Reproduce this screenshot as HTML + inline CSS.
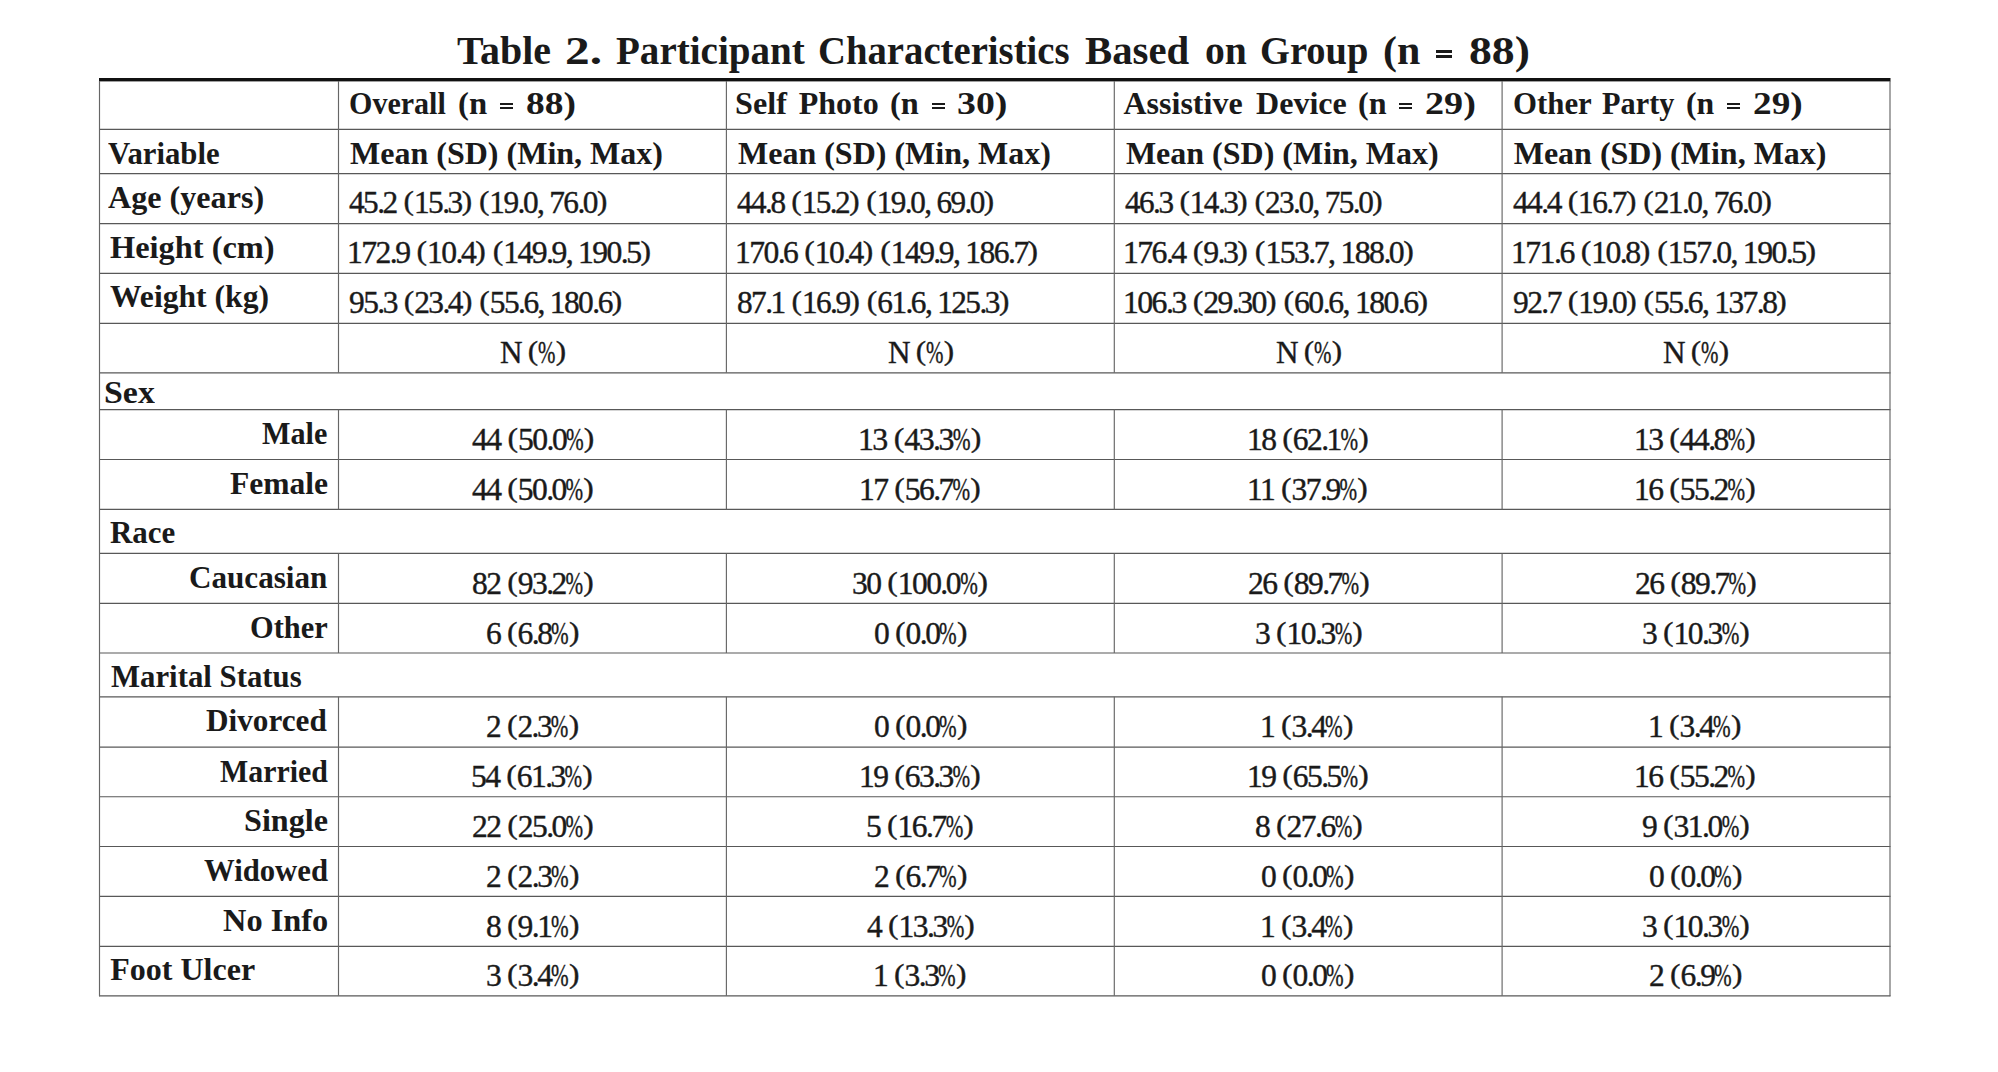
<!DOCTYPE html><html><head><meta charset='utf-8'><style>
html,body{margin:0;padding:0;background:#fff;width:1998px;height:1072px;overflow:hidden;position:relative}
.t{position:absolute;font-family:"Liberation Serif", serif;white-space:pre;color:#1a1a1a;transform-origin:0 0}
.r{position:absolute;background:#1a1a1a}
.p{display:inline-block;transform:scaleX(0.67);transform-origin:0 0;margin-right:-8.80px;letter-spacing:0} .d{letter-spacing:-2.5px} .q{letter-spacing:0;display:inline-block;transform:scaleY(.885);transform-origin:50% 5px} .s{letter-spacing:-1px}
</style></head><body>
<svg width='1998' height='1072' style='position:absolute;left:0;top:0'><rect x='99.0' y='78' width='1791.5' height='3.4' fill='#111'/><line x1='99.0' y1='129.4' x2='1890.5' y2='129.4' stroke='#585858' stroke-width='1.15'/><line x1='99.0' y1='173.6' x2='1890.5' y2='173.6' stroke='#585858' stroke-width='1.15'/><line x1='99.0' y1='223.6' x2='1890.5' y2='223.6' stroke='#585858' stroke-width='1.15'/><line x1='99.0' y1='273.4' x2='1890.5' y2='273.4' stroke='#585858' stroke-width='1.15'/><line x1='99.0' y1='323.3' x2='1890.5' y2='323.3' stroke='#585858' stroke-width='1.15'/><line x1='99.0' y1='372.8' x2='1890.5' y2='372.8' stroke='#585858' stroke-width='1.15'/><line x1='99.0' y1='409.6' x2='1890.5' y2='409.6' stroke='#585858' stroke-width='1.15'/><line x1='99.0' y1='459.5' x2='1890.5' y2='459.5' stroke='#585858' stroke-width='1.15'/><line x1='99.0' y1='509.4' x2='1890.5' y2='509.4' stroke='#585858' stroke-width='1.15'/><line x1='99.0' y1='553.4' x2='1890.5' y2='553.4' stroke='#585858' stroke-width='1.15'/><line x1='99.0' y1='603.3' x2='1890.5' y2='603.3' stroke='#585858' stroke-width='1.15'/><line x1='99.0' y1='653.0' x2='1890.5' y2='653.0' stroke='#585858' stroke-width='1.15'/><line x1='99.0' y1='696.8' x2='1890.5' y2='696.8' stroke='#585858' stroke-width='1.15'/><line x1='99.0' y1='747.1' x2='1890.5' y2='747.1' stroke='#585858' stroke-width='1.15'/><line x1='99.0' y1='796.7' x2='1890.5' y2='796.7' stroke='#585858' stroke-width='1.15'/><line x1='99.0' y1='846.5' x2='1890.5' y2='846.5' stroke='#585858' stroke-width='1.15'/><line x1='99.0' y1='896.4' x2='1890.5' y2='896.4' stroke='#585858' stroke-width='1.15'/><line x1='99.0' y1='946.4' x2='1890.5' y2='946.4' stroke='#585858' stroke-width='1.15'/><line x1='99.0' y1='995.8' x2='1890.5' y2='995.8' stroke='#585858' stroke-width='1.15'/><line x1='99.5' y1='81' x2='99.5' y2='996.3' stroke='#666' stroke-width='1.15'/><line x1='1890' y1='81' x2='1890' y2='996.3' stroke='#666' stroke-width='1.15'/><line x1='338.5' y1='81' x2='338.5' y2='372.8' stroke='#666' stroke-width='1.15'/><line x1='338.5' y1='409.6' x2='338.5' y2='509.4' stroke='#666' stroke-width='1.15'/><line x1='338.5' y1='553.4' x2='338.5' y2='653.0' stroke='#666' stroke-width='1.15'/><line x1='338.5' y1='696.8' x2='338.5' y2='995.8' stroke='#666' stroke-width='1.15'/><line x1='726.4' y1='81' x2='726.4' y2='372.8' stroke='#666' stroke-width='1.15'/><line x1='726.4' y1='409.6' x2='726.4' y2='509.4' stroke='#666' stroke-width='1.15'/><line x1='726.4' y1='553.4' x2='726.4' y2='653.0' stroke='#666' stroke-width='1.15'/><line x1='726.4' y1='696.8' x2='726.4' y2='995.8' stroke='#666' stroke-width='1.15'/><line x1='1114.3' y1='81' x2='1114.3' y2='372.8' stroke='#666' stroke-width='1.15'/><line x1='1114.3' y1='409.6' x2='1114.3' y2='509.4' stroke='#666' stroke-width='1.15'/><line x1='1114.3' y1='553.4' x2='1114.3' y2='653.0' stroke='#666' stroke-width='1.15'/><line x1='1114.3' y1='696.8' x2='1114.3' y2='995.8' stroke='#666' stroke-width='1.15'/><line x1='1502.1' y1='81' x2='1502.1' y2='372.8' stroke='#666' stroke-width='1.15'/><line x1='1502.1' y1='409.6' x2='1502.1' y2='509.4' stroke='#666' stroke-width='1.15'/><line x1='1502.1' y1='553.4' x2='1502.1' y2='653.0' stroke='#666' stroke-width='1.15'/><line x1='1502.1' y1='696.8' x2='1502.1' y2='995.8' stroke='#666' stroke-width='1.15'/></svg>
<div class='r' style='left:1436.1px;top:50.2px;width:16px;height:2.8px'></div>
<div class='r' style='left:1436.1px;top:55.2px;width:16px;height:2.8px'></div>
<div class='r' style='left:500.0px;top:103.0px;width:13.3px;height:1.8px'></div>
<div class='r' style='left:500.0px;top:107.2px;width:13.3px;height:1.8px'></div>
<div class='r' style='left:931.8px;top:103.0px;width:13.3px;height:1.8px'></div>
<div class='r' style='left:931.8px;top:107.2px;width:13.3px;height:1.8px'></div>
<div class='r' style='left:1399.2px;top:103.0px;width:13.3px;height:1.8px'></div>
<div class='r' style='left:1399.2px;top:107.2px;width:13.3px;height:1.8px'></div>
<div class='r' style='left:1727.2px;top:103.0px;width:13.3px;height:1.8px'></div>
<div class='r' style='left:1727.2px;top:107.2px;width:13.3px;height:1.8px'></div>
<div class='t' style='left:457.23px;top:29.67px;font-weight:bold;font-size:41px;line-height:41px;transform:scaleX(0.9737);'>Table</div>
<div class='t' style='left:564.59px;top:29.67px;font-weight:bold;font-size:41px;line-height:41px;transform:scaleX(1.2037);'>2.</div>
<div class='t' style='left:615.65px;top:29.67px;font-weight:bold;font-size:41px;line-height:41px;transform:scaleX(0.9528);'>Participant</div>
<div class='t' style='left:817.51px;top:29.67px;font-weight:bold;font-size:41px;line-height:41px;transform:scaleX(0.9443);'>Characteristics</div>
<div class='t' style='left:1084.61px;top:29.67px;font-weight:bold;font-size:41px;line-height:41px;transform:scaleX(0.9942);'>Based</div>
<div class='t' style='left:1204.83px;top:29.67px;font-weight:bold;font-size:41px;line-height:41px;transform:scaleX(0.9667);'>on</div>
<div class='t' style='left:1260.02px;top:29.67px;font-weight:bold;font-size:41px;line-height:41px;transform:scaleX(0.9384);'>Group</div>
<div class='t' style='left:1383.15px;top:29.67px;font-weight:bold;font-size:41px;line-height:41px;transform:scaleX(1.0235);'>(n</div>
<div class='t' style='left:1468.58px;top:29.67px;font-weight:bold;font-size:41px;line-height:41px;transform:scaleX(1.1154);'>88)</div>
<div class='t' style='left:349.06px;top:87.00px;font-weight:bold;font-size:32px;line-height:32px;transform:scaleX(0.9392);'>Overall</div>
<div class='t' style='left:458.38px;top:87.00px;font-weight:bold;font-size:32px;line-height:32px;transform:scaleX(1.0222);'>(n</div>
<div class='t' style='left:525.93px;top:87.00px;font-weight:bold;font-size:32px;line-height:32px;transform:scaleX(1.1700);'>88)</div>
<div class='t' style='left:735.49px;top:87.00px;font-weight:bold;font-size:32px;line-height:32px;transform:scaleX(1.0060);'>Self</div>
<div class='t' style='left:798.70px;top:87.00px;font-weight:bold;font-size:32px;line-height:32px;'>Photo</div>
<div class='t' style='left:890.09px;top:87.00px;font-weight:bold;font-size:32px;line-height:32px;transform:scaleX(1.0111);'>(n</div>
<div class='t' style='left:957.02px;top:87.00px;font-weight:bold;font-size:32px;line-height:32px;transform:scaleX(1.1825);'>30)</div>
<div class='t' style='left:1123.50px;top:87.00px;font-weight:bold;font-size:32px;line-height:32px;'>Assistive</div>
<div class='t' style='left:1255.80px;top:87.00px;font-weight:bold;font-size:32px;line-height:32px;transform:scaleX(1.0022);'>Device</div>
<div class='t' style='left:1357.60px;top:87.00px;font-weight:bold;font-size:32px;line-height:32px;transform:scaleX(1.0037);'>(n</div>
<div class='t' style='left:1424.71px;top:87.00px;font-weight:bold;font-size:32px;line-height:32px;transform:scaleX(1.1925);'>29)</div>
<div class='t' style='left:1512.74px;top:87.00px;font-weight:bold;font-size:32px;line-height:32px;transform:scaleX(0.9637);'>Other</div>
<div class='t' style='left:1601.90px;top:87.00px;font-weight:bold;font-size:32px;line-height:32px;transform:scaleX(0.9474);'>Party</div>
<div class='t' style='left:1685.61px;top:87.00px;font-weight:bold;font-size:32px;line-height:32px;transform:scaleX(0.9926);'>(n</div>
<div class='t' style='left:1752.74px;top:87.00px;font-weight:bold;font-size:32px;line-height:32px;transform:scaleX(1.1650);'>29)</div>
<div class='t' style='left:108.30px;top:137.00px;font-weight:bold;font-size:32px;line-height:32px;transform:scaleX(0.9612);'>Variable</div>
<div class='t' style='left:350.10px;top:137.30px;font-weight:bold;font-size:32px;line-height:32px;'>Mean (SD) (Min, Max)</div>
<div class='t' style='left:738.00px;top:137.30px;font-weight:bold;font-size:32px;line-height:32px;'>Mean (SD) (Min, Max)</div>
<div class='t' style='left:1125.90px;top:137.30px;font-weight:bold;font-size:32px;line-height:32px;'>Mean (SD) (Min, Max)</div>
<div class='t' style='left:1513.70px;top:137.30px;font-weight:bold;font-size:32px;line-height:32px;'>Mean (SD) (Min, Max)</div>
<div class='t' style='left:108.10px;top:181.10px;font-weight:bold;font-size:32px;line-height:32px;transform:scaleX(1.0039);'>Age (years)</div>
<div class='t' style='left:349.12px;top:186.20px;font-size:32px;line-height:32px;letter-spacing:-1.6px;-webkit-text-stroke:0.4px #1a1a1a;transform:scaleX(0.9786);'>45<span class="d">.</span>2<span class="s"> </span><span class="q">(</span>15<span class="d">.</span>3<span class="q">)</span><span class="s"> </span><span class="q">(</span>19<span class="d">.</span>0<span class="d">,</span><span class="s"> </span>76<span class="d">.</span>0<span class="q">)</span></div>
<div class='t' style='left:737.03px;top:186.20px;font-size:32px;line-height:32px;letter-spacing:-1.6px;-webkit-text-stroke:0.4px #1a1a1a;transform:scaleX(0.9744);'>44<span class="d">.</span>8<span class="s"> </span><span class="q">(</span>15<span class="d">.</span>2<span class="q">)</span><span class="s"> </span><span class="q">(</span>19<span class="d">.</span>0<span class="d">,</span><span class="s"> </span>69<span class="d">.</span>0<span class="q">)</span></div>
<div class='t' style='left:1124.92px;top:186.20px;font-size:32px;line-height:32px;letter-spacing:-1.6px;-webkit-text-stroke:0.4px #1a1a1a;transform:scaleX(0.9760);'>46<span class="d">.</span>3<span class="s"> </span><span class="q">(</span>14<span class="d">.</span>3<span class="q">)</span><span class="s"> </span><span class="q">(</span>23<span class="d">.</span>0<span class="d">,</span><span class="s"> </span>75<span class="d">.</span>0<span class="q">)</span></div>
<div class='t' style='left:1512.72px;top:186.20px;font-size:32px;line-height:32px;letter-spacing:-1.6px;-webkit-text-stroke:0.4px #1a1a1a;transform:scaleX(0.9809);'>44<span class="d">.</span>4<span class="s"> </span><span class="q">(</span>16<span class="d">.</span>7<span class="q">)</span><span class="s"> </span><span class="q">(</span>21<span class="d">.</span>0<span class="d">,</span><span class="s"> </span>76<span class="d">.</span>0<span class="q">)</span></div>
<div class='t' style='left:110.20px;top:231.00px;font-weight:bold;font-size:32px;line-height:32px;transform:scaleX(1.0124);'>Height (cm)</div>
<div class='t' style='left:347.13px;top:236.20px;font-size:32px;line-height:32px;letter-spacing:-1.6px;-webkit-text-stroke:0.4px #1a1a1a;transform:scaleX(0.9901);'>172<span class="d">.</span>9<span class="s"> </span><span class="q">(</span>10<span class="d">.</span>4<span class="q">)</span><span class="s"> </span><span class="q">(</span>149<span class="d">.</span>9<span class="d">,</span><span class="s"> </span>190<span class="d">.</span>5<span class="q">)</span></div>
<div class='t' style='left:735.04px;top:236.20px;font-size:32px;line-height:32px;letter-spacing:-1.6px;-webkit-text-stroke:0.4px #1a1a1a;transform:scaleX(0.9868);'>170<span class="d">.</span>6<span class="s"> </span><span class="q">(</span>10<span class="d">.</span>4<span class="q">)</span><span class="s"> </span><span class="q">(</span>149<span class="d">.</span>9<span class="d">,</span><span class="s"> </span>186<span class="d">.</span>7<span class="q">)</span></div>
<div class='t' style='left:1122.92px;top:236.20px;font-size:32px;line-height:32px;letter-spacing:-1.6px;-webkit-text-stroke:0.4px #1a1a1a;transform:scaleX(0.9931);'>176<span class="d">.</span>4<span class="s"> </span><span class="q">(</span>9<span class="d">.</span>3<span class="q">)</span><span class="s"> </span><span class="q">(</span>153<span class="d">.</span>7<span class="d">,</span><span class="s"> </span>188<span class="d">.</span>0<span class="q">)</span></div>
<div class='t' style='left:1510.72px;top:236.20px;font-size:32px;line-height:32px;letter-spacing:-1.6px;-webkit-text-stroke:0.4px #1a1a1a;transform:scaleX(0.9934);'>171<span class="d">.</span>6<span class="s"> </span><span class="q">(</span>10<span class="d">.</span>8<span class="q">)</span><span class="s"> </span><span class="q">(</span>157<span class="d">.</span>0<span class="d">,</span><span class="s"> </span>190<span class="d">.</span>5<span class="q">)</span></div>
<div class='t' style='left:109.50px;top:280.40px;font-weight:bold;font-size:32px;line-height:32px;transform:scaleX(0.9881);'>Weight (kg)</div>
<div class='t' style='left:349.12px;top:286.00px;font-size:32px;line-height:32px;letter-spacing:-1.6px;-webkit-text-stroke:0.4px #1a1a1a;transform:scaleX(0.9815);'>95<span class="d">.</span>3<span class="s"> </span><span class="q">(</span>23<span class="d">.</span>4<span class="q">)</span><span class="s"> </span><span class="q">(</span>55<span class="d">.</span>6<span class="d">,</span><span class="s"> </span>180<span class="d">.</span>6<span class="q">)</span></div>
<div class='t' style='left:737.02px;top:286.00px;font-size:32px;line-height:32px;letter-spacing:-1.6px;-webkit-text-stroke:0.4px #1a1a1a;transform:scaleX(0.9783);'>87<span class="d">.</span>1<span class="s"> </span><span class="q">(</span>16<span class="d">.</span>9<span class="q">)</span><span class="s"> </span><span class="q">(</span>61<span class="d">.</span>6<span class="d">,</span><span class="s"> </span>125<span class="d">.</span>3<span class="q">)</span></div>
<div class='t' style='left:1122.92px;top:286.00px;font-size:32px;line-height:32px;letter-spacing:-1.6px;-webkit-text-stroke:0.4px #1a1a1a;transform:scaleX(0.9934);'>106<span class="d">.</span>3<span class="s"> </span><span class="q">(</span>29<span class="d">.</span>30<span class="q">)</span><span class="s"> </span><span class="q">(</span>60<span class="d">.</span>6<span class="d">,</span><span class="s"> </span>180<span class="d">.</span>6<span class="q">)</span></div>
<div class='t' style='left:1512.72px;top:286.00px;font-size:32px;line-height:32px;letter-spacing:-1.6px;-webkit-text-stroke:0.4px #1a1a1a;transform:scaleX(0.9837);'>92<span class="d">.</span>7<span class="s"> </span><span class="q">(</span>19<span class="d">.</span>0<span class="q">)</span><span class="s"> </span><span class="q">(</span>55<span class="d">.</span>6<span class="d">,</span><span class="s"> </span>137<span class="d">.</span>8<span class="q">)</span></div>
<div class='t' style='left:499.77px;top:336.10px;font-size:32px;line-height:32px;letter-spacing:-1.6px;-webkit-text-stroke:0.4px #1a1a1a;transform:scaleX(0.9754);'>N<span class="s"> </span><span class="q">(</span><span class="p">%</span><span class="q">)</span></div>
<div class='t' style='left:887.67px;top:336.10px;font-size:32px;line-height:32px;letter-spacing:-1.6px;-webkit-text-stroke:0.4px #1a1a1a;transform:scaleX(0.9754);'>N<span class="s"> </span><span class="q">(</span><span class="p">%</span><span class="q">)</span></div>
<div class='t' style='left:1275.52px;top:336.10px;font-size:32px;line-height:32px;letter-spacing:-1.6px;-webkit-text-stroke:0.4px #1a1a1a;transform:scaleX(0.9754);'>N<span class="s"> </span><span class="q">(</span><span class="p">%</span><span class="q">)</span></div>
<div class='t' style='left:1663.37px;top:336.10px;font-size:32px;line-height:32px;letter-spacing:-1.6px;-webkit-text-stroke:0.4px #1a1a1a;transform:scaleX(0.9754);'>N<span class="s"> </span><span class="q">(</span><span class="p">%</span><span class="q">)</span></div>
<div class='t' style='left:103.68px;top:375.80px;font-weight:bold;font-size:32px;line-height:32px;transform:scaleX(1.0587);'>Sex</div>
<div class='t' style='left:110.00px;top:516.00px;font-weight:bold;font-size:32px;line-height:32px;transform:scaleX(0.9672);'>Race</div>
<div class='t' style='left:110.50px;top:660.10px;font-weight:bold;font-size:32px;line-height:32px;transform:scaleX(0.9621);'>Marital Status</div>
<div class='t' style='left:262.40px;top:417.10px;font-weight:bold;font-size:32px;line-height:32px;transform:scaleX(0.9420);'>Male</div>
<div class='t' style='left:471.61px;top:422.80px;font-size:32px;line-height:32px;letter-spacing:-1.6px;-webkit-text-stroke:0.4px #1a1a1a;transform:scaleX(0.9893);'>44<span class="s"> </span><span class="q">(</span>50<span class="d">.</span>0<span class="p">%</span><span class="q">)</span></div>
<div class='t' style='left:857.98px;top:422.80px;font-size:32px;line-height:32px;letter-spacing:-1.6px;-webkit-text-stroke:0.4px #1a1a1a;transform:scaleX(0.9979);'>13<span class="s"> </span><span class="q">(</span>43<span class="d">.</span>3<span class="p">%</span><span class="q">)</span></div>
<div class='t' style='left:1246.64px;top:422.80px;font-size:32px;line-height:32px;letter-spacing:-1.6px;-webkit-text-stroke:0.4px #1a1a1a;transform:scaleX(0.9850);'>18<span class="s"> </span><span class="q">(</span>62<span class="d">.</span>1<span class="p">%</span><span class="q">)</span></div>
<div class='t' style='left:1634.49px;top:422.80px;font-size:32px;line-height:32px;letter-spacing:-1.6px;-webkit-text-stroke:0.4px #1a1a1a;transform:scaleX(0.9850);'>13<span class="s"> </span><span class="q">(</span>44<span class="d">.</span>8<span class="p">%</span><span class="q">)</span></div>
<div class='t' style='left:229.80px;top:467.00px;font-weight:bold;font-size:32px;line-height:32px;transform:scaleX(0.9859);'>Female</div>
<div class='t' style='left:471.87px;top:472.70px;font-size:32px;line-height:32px;letter-spacing:-1.6px;-webkit-text-stroke:0.4px #1a1a1a;transform:scaleX(0.9850);'>44<span class="s"> </span><span class="q">(</span>50<span class="d">.</span>0<span class="p">%</span><span class="q">)</span></div>
<div class='t' style='left:858.79px;top:472.70px;font-size:32px;line-height:32px;letter-spacing:-1.6px;-webkit-text-stroke:0.4px #1a1a1a;transform:scaleX(0.9850);'>17<span class="s"> </span><span class="q">(</span>56<span class="d">.</span>7<span class="p">%</span><span class="q">)</span></div>
<div class='t' style='left:1247.13px;top:472.70px;font-size:32px;line-height:32px;letter-spacing:-1.6px;-webkit-text-stroke:0.4px #1a1a1a;transform:scaleX(0.9850);'>11<span class="s"> </span><span class="q">(</span>37<span class="d">.</span>9<span class="p">%</span><span class="q">)</span></div>
<div class='t' style='left:1634.49px;top:472.70px;font-size:32px;line-height:32px;letter-spacing:-1.6px;-webkit-text-stroke:0.4px #1a1a1a;transform:scaleX(0.9850);'>16<span class="s"> </span><span class="q">(</span>55<span class="d">.</span>2<span class="p">%</span><span class="q">)</span></div>
<div class='t' style='left:189.33px;top:560.90px;font-weight:bold;font-size:32px;line-height:32px;transform:scaleX(0.9723);'>Caucasian</div>
<div class='t' style='left:471.87px;top:566.60px;font-size:32px;line-height:32px;letter-spacing:-1.6px;-webkit-text-stroke:0.4px #1a1a1a;transform:scaleX(0.9850);'>82<span class="s"> </span><span class="q">(</span>93<span class="d">.</span>2<span class="p">%</span><span class="q">)</span></div>
<div class='t' style='left:852.38px;top:566.60px;font-size:32px;line-height:32px;letter-spacing:-1.6px;-webkit-text-stroke:0.4px #1a1a1a;transform:scaleX(0.9850);'>30<span class="s"> </span><span class="q">(</span>100<span class="d">.</span>0<span class="p">%</span><span class="q">)</span></div>
<div class='t' style='left:1247.62px;top:566.60px;font-size:32px;line-height:32px;letter-spacing:-1.6px;-webkit-text-stroke:0.4px #1a1a1a;transform:scaleX(0.9850);'>26<span class="s"> </span><span class="q">(</span>89<span class="d">.</span>7<span class="p">%</span><span class="q">)</span></div>
<div class='t' style='left:1635.47px;top:566.60px;font-size:32px;line-height:32px;letter-spacing:-1.6px;-webkit-text-stroke:0.4px #1a1a1a;transform:scaleX(0.9850);'>26<span class="s"> </span><span class="q">(</span>89<span class="d">.</span>7<span class="p">%</span><span class="q">)</span></div>
<div class='t' style='left:250.45px;top:610.80px;font-weight:bold;font-size:32px;line-height:32px;transform:scaleX(0.9500);'>Other</div>
<div class='t' style='left:485.66px;top:616.50px;font-size:32px;line-height:32px;letter-spacing:-1.6px;-webkit-text-stroke:0.4px #1a1a1a;transform:scaleX(0.9850);'>6<span class="s"> </span><span class="q">(</span>6<span class="d">.</span>8<span class="p">%</span><span class="q">)</span></div>
<div class='t' style='left:873.56px;top:616.50px;font-size:32px;line-height:32px;letter-spacing:-1.6px;-webkit-text-stroke:0.4px #1a1a1a;transform:scaleX(0.9850);'>0<span class="s"> </span><span class="q">(</span>0<span class="d">.</span>0<span class="p">%</span><span class="q">)</span></div>
<div class='t' style='left:1254.52px;top:616.50px;font-size:32px;line-height:32px;letter-spacing:-1.6px;-webkit-text-stroke:0.4px #1a1a1a;transform:scaleX(0.9850);'>3<span class="s"> </span><span class="q">(</span>10<span class="d">.</span>3<span class="p">%</span><span class="q">)</span></div>
<div class='t' style='left:1642.37px;top:616.50px;font-size:32px;line-height:32px;letter-spacing:-1.6px;-webkit-text-stroke:0.4px #1a1a1a;transform:scaleX(0.9850);'>3<span class="s"> </span><span class="q">(</span>10<span class="d">.</span>3<span class="p">%</span><span class="q">)</span></div>
<div class='t' style='left:206.40px;top:704.30px;font-weight:bold;font-size:32px;line-height:32px;transform:scaleX(0.9758);'>Divorced</div>
<div class='t' style='left:485.82px;top:710.00px;font-size:32px;line-height:32px;letter-spacing:-1.6px;-webkit-text-stroke:0.4px #1a1a1a;transform:scaleX(0.9817);'>2<span class="s"> </span><span class="q">(</span>2<span class="d">.</span>3<span class="p">%</span><span class="q">)</span></div>
<div class='t' style='left:873.56px;top:710.00px;font-size:32px;line-height:32px;letter-spacing:-1.6px;-webkit-text-stroke:0.4px #1a1a1a;transform:scaleX(0.9850);'>0<span class="s"> </span><span class="q">(</span>0<span class="d">.</span>0<span class="p">%</span><span class="q">)</span></div>
<div class='t' style='left:1260.43px;top:710.00px;font-size:32px;line-height:32px;letter-spacing:-1.6px;-webkit-text-stroke:0.4px #1a1a1a;transform:scaleX(0.9850);'>1<span class="s"> </span><span class="q">(</span>3<span class="d">.</span>4<span class="p">%</span><span class="q">)</span></div>
<div class='t' style='left:1648.28px;top:710.00px;font-size:32px;line-height:32px;letter-spacing:-1.6px;-webkit-text-stroke:0.4px #1a1a1a;transform:scaleX(0.9850);'>1<span class="s"> </span><span class="q">(</span>3<span class="d">.</span>4<span class="p">%</span><span class="q">)</span></div>
<div class='t' style='left:220.00px;top:754.60px;font-weight:bold;font-size:32px;line-height:32px;transform:scaleX(0.9339);'>Married</div>
<div class='t' style='left:471.38px;top:760.30px;font-size:32px;line-height:32px;letter-spacing:-1.6px;-webkit-text-stroke:0.4px #1a1a1a;transform:scaleX(0.9850);'>54<span class="s"> </span><span class="q">(</span>61<span class="d">.</span>3<span class="p">%</span><span class="q">)</span></div>
<div class='t' style='left:858.79px;top:760.30px;font-size:32px;line-height:32px;letter-spacing:-1.6px;-webkit-text-stroke:0.4px #1a1a1a;transform:scaleX(0.9850);'>19<span class="s"> </span><span class="q">(</span>63<span class="d">.</span>3<span class="p">%</span><span class="q">)</span></div>
<div class='t' style='left:1246.64px;top:760.30px;font-size:32px;line-height:32px;letter-spacing:-1.6px;-webkit-text-stroke:0.4px #1a1a1a;transform:scaleX(0.9850);'>19<span class="s"> </span><span class="q">(</span>65<span class="d">.</span>5<span class="p">%</span><span class="q">)</span></div>
<div class='t' style='left:1634.49px;top:760.30px;font-size:32px;line-height:32px;letter-spacing:-1.6px;-webkit-text-stroke:0.4px #1a1a1a;transform:scaleX(0.9850);'>16<span class="s"> </span><span class="q">(</span>55<span class="d">.</span>2<span class="p">%</span><span class="q">)</span></div>
<div class='t' style='left:243.99px;top:804.20px;font-weight:bold;font-size:32px;line-height:32px;transform:scaleX(1.0049);'>Single</div>
<div class='t' style='left:471.87px;top:809.90px;font-size:32px;line-height:32px;letter-spacing:-1.6px;-webkit-text-stroke:0.4px #1a1a1a;transform:scaleX(0.9850);'>22<span class="s"> </span><span class="q">(</span>25<span class="d">.</span>0<span class="p">%</span><span class="q">)</span></div>
<div class='t' style='left:866.17px;top:809.90px;font-size:32px;line-height:32px;letter-spacing:-1.6px;-webkit-text-stroke:0.4px #1a1a1a;transform:scaleX(0.9850);'>5<span class="s"> </span><span class="q">(</span>16<span class="d">.</span>7<span class="p">%</span><span class="q">)</span></div>
<div class='t' style='left:1254.52px;top:809.90px;font-size:32px;line-height:32px;letter-spacing:-1.6px;-webkit-text-stroke:0.4px #1a1a1a;transform:scaleX(0.9850);'>8<span class="s"> </span><span class="q">(</span>27<span class="d">.</span>6<span class="p">%</span><span class="q">)</span></div>
<div class='t' style='left:1642.37px;top:809.90px;font-size:32px;line-height:32px;letter-spacing:-1.6px;-webkit-text-stroke:0.4px #1a1a1a;transform:scaleX(0.9850);'>9<span class="s"> </span><span class="q">(</span>31<span class="d">.</span>0<span class="p">%</span><span class="q">)</span></div>
<div class='t' style='left:203.60px;top:854.00px;font-weight:bold;font-size:32px;line-height:32px;transform:scaleX(0.9597);'>Widowed</div>
<div class='t' style='left:485.66px;top:859.70px;font-size:32px;line-height:32px;letter-spacing:-1.6px;-webkit-text-stroke:0.4px #1a1a1a;transform:scaleX(0.9850);'>2<span class="s"> </span><span class="q">(</span>2<span class="d">.</span>3<span class="p">%</span><span class="q">)</span></div>
<div class='t' style='left:873.56px;top:859.70px;font-size:32px;line-height:32px;letter-spacing:-1.6px;-webkit-text-stroke:0.4px #1a1a1a;transform:scaleX(0.9850);'>2<span class="s"> </span><span class="q">(</span>6<span class="d">.</span>7<span class="p">%</span><span class="q">)</span></div>
<div class='t' style='left:1261.41px;top:859.70px;font-size:32px;line-height:32px;letter-spacing:-1.6px;-webkit-text-stroke:0.4px #1a1a1a;transform:scaleX(0.9850);'>0<span class="s"> </span><span class="q">(</span>0<span class="d">.</span>0<span class="p">%</span><span class="q">)</span></div>
<div class='t' style='left:1649.26px;top:859.70px;font-size:32px;line-height:32px;letter-spacing:-1.6px;-webkit-text-stroke:0.4px #1a1a1a;transform:scaleX(0.9850);'>0<span class="s"> </span><span class="q">(</span>0<span class="d">.</span>0<span class="p">%</span><span class="q">)</span></div>
<div class='t' style='left:223.19px;top:903.90px;font-weight:bold;font-size:32px;line-height:32px;transform:scaleX(1.0118);'>No Info</div>
<div class='t' style='left:485.66px;top:909.60px;font-size:32px;line-height:32px;letter-spacing:-1.6px;-webkit-text-stroke:0.4px #1a1a1a;transform:scaleX(0.9850);'>8<span class="s"> </span><span class="q">(</span>9<span class="d">.</span>1<span class="p">%</span><span class="q">)</span></div>
<div class='t' style='left:866.67px;top:909.60px;font-size:32px;line-height:32px;letter-spacing:-1.6px;-webkit-text-stroke:0.4px #1a1a1a;transform:scaleX(0.9850);'>4<span class="s"> </span><span class="q">(</span>13<span class="d">.</span>3<span class="p">%</span><span class="q">)</span></div>
<div class='t' style='left:1260.43px;top:909.60px;font-size:32px;line-height:32px;letter-spacing:-1.6px;-webkit-text-stroke:0.4px #1a1a1a;transform:scaleX(0.9850);'>1<span class="s"> </span><span class="q">(</span>3<span class="d">.</span>4<span class="p">%</span><span class="q">)</span></div>
<div class='t' style='left:1642.37px;top:909.60px;font-size:32px;line-height:32px;letter-spacing:-1.6px;-webkit-text-stroke:0.4px #1a1a1a;transform:scaleX(0.9850);'>3<span class="s"> </span><span class="q">(</span>10<span class="d">.</span>3<span class="p">%</span><span class="q">)</span></div>
<div class='t' style='left:110.30px;top:952.80px;font-weight:bold;font-size:32px;line-height:32px;'>Foot Ulcer</div>
<div class='t' style='left:485.66px;top:959.20px;font-size:32px;line-height:32px;letter-spacing:-1.6px;-webkit-text-stroke:0.4px #1a1a1a;transform:scaleX(0.9850);'>3<span class="s"> </span><span class="q">(</span>3<span class="d">.</span>4<span class="p">%</span><span class="q">)</span></div>
<div class='t' style='left:872.58px;top:959.20px;font-size:32px;line-height:32px;letter-spacing:-1.6px;-webkit-text-stroke:0.4px #1a1a1a;transform:scaleX(0.9850);'>1<span class="s"> </span><span class="q">(</span>3<span class="d">.</span>3<span class="p">%</span><span class="q">)</span></div>
<div class='t' style='left:1261.41px;top:959.20px;font-size:32px;line-height:32px;letter-spacing:-1.6px;-webkit-text-stroke:0.4px #1a1a1a;transform:scaleX(0.9850);'>0<span class="s"> </span><span class="q">(</span>0<span class="d">.</span>0<span class="p">%</span><span class="q">)</span></div>
<div class='t' style='left:1649.26px;top:959.20px;font-size:32px;line-height:32px;letter-spacing:-1.6px;-webkit-text-stroke:0.4px #1a1a1a;transform:scaleX(0.9850);'>2<span class="s"> </span><span class="q">(</span>6<span class="d">.</span>9<span class="p">%</span><span class="q">)</span></div>
</body></html>
